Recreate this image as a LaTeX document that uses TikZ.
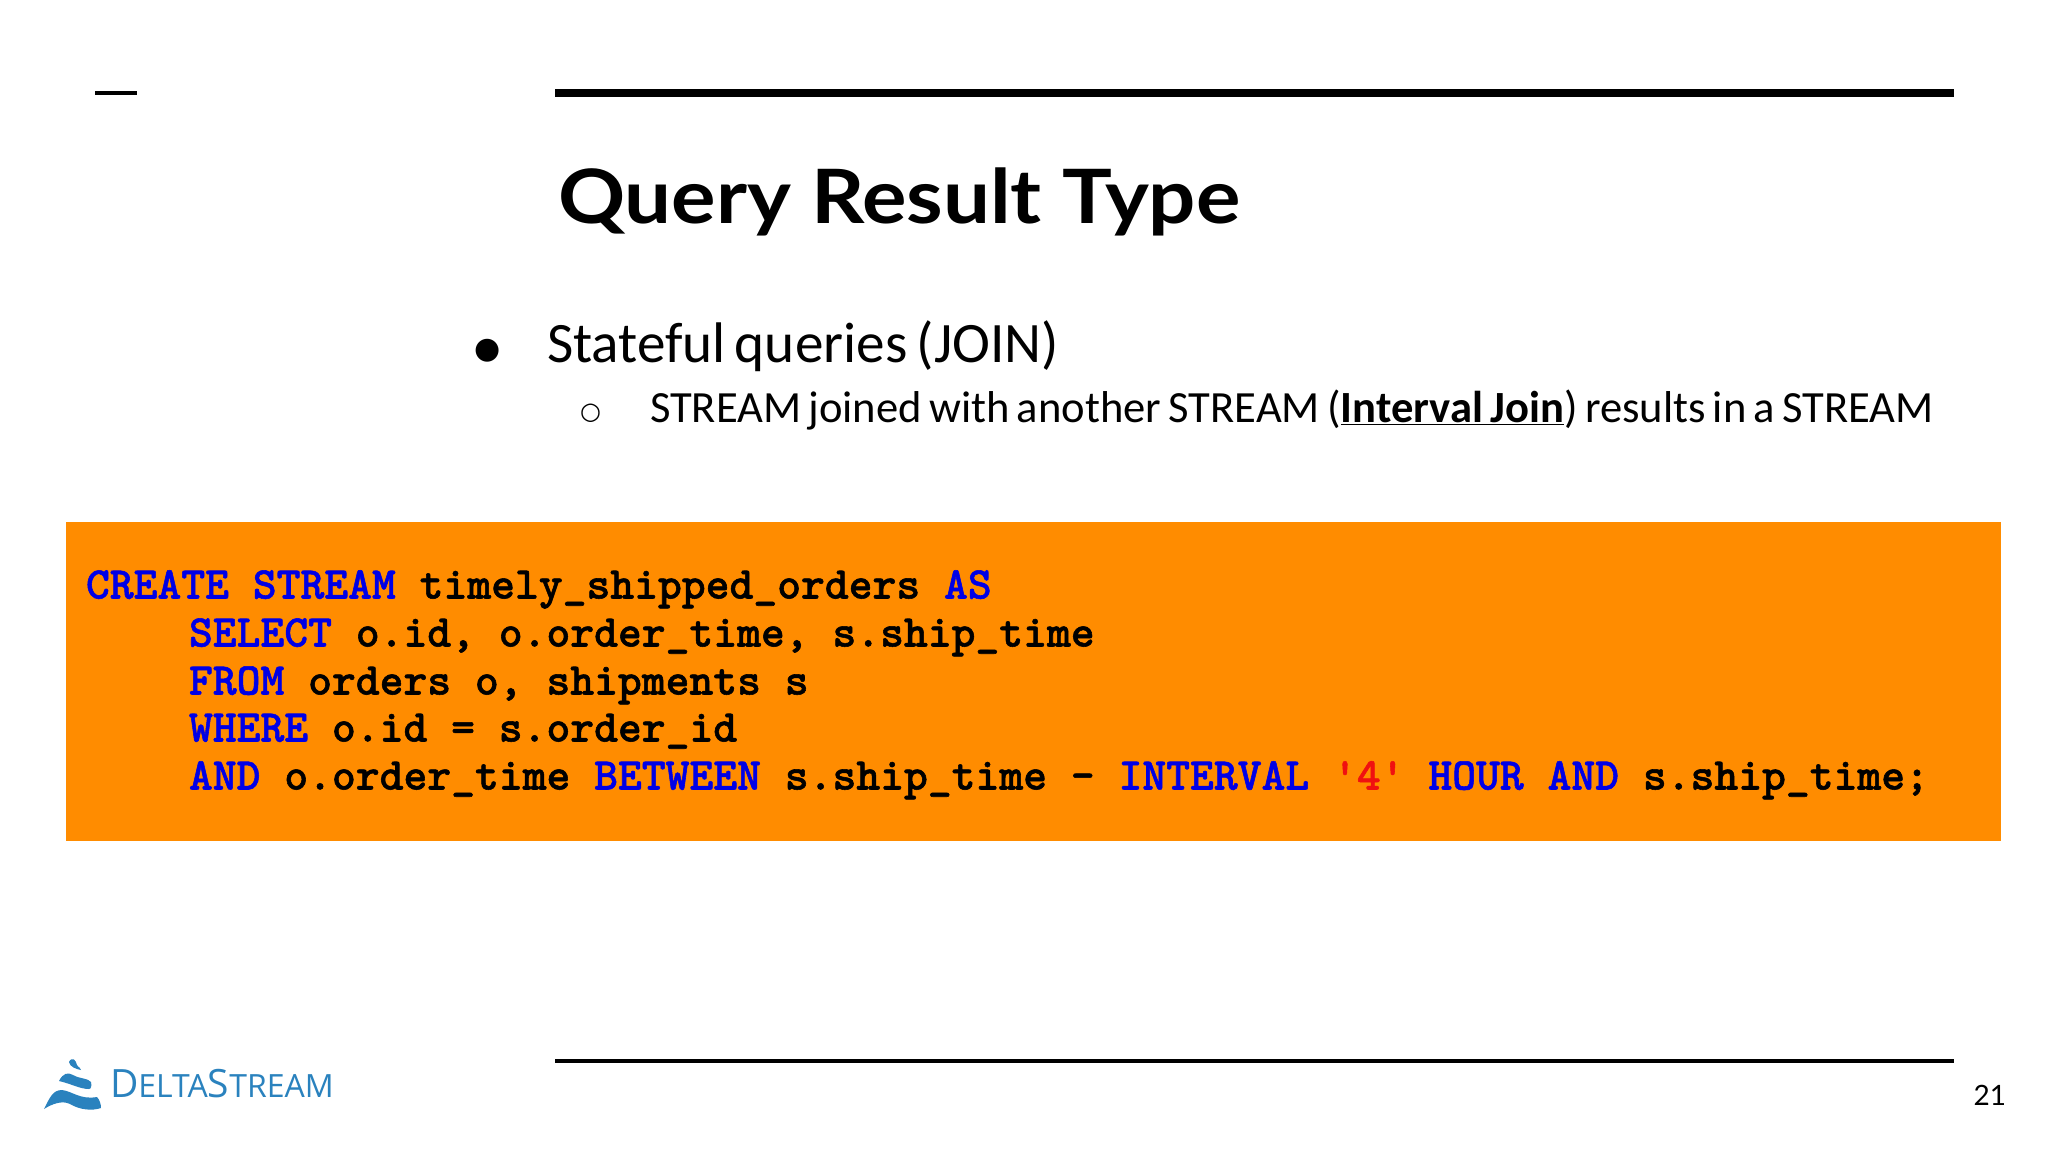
\documentclass[tikz,border=0pt]{standalone}
\usepackage{fontspec}
\setmainfont[WordSpace=0.72]{Carlito}
\newfontfamily\titlefont[FakeStretch=1.11]{Lato}
\newfontfamily\pagefont{Lato}
\setmonofont[BoldFeatures={FakeBold=1.2}]{Latin Modern Mono Light}
\newfontfamily\symfont{DejaVu Sans}
\newfontfamily\logofont{Open Sans}
\definecolor{boxorange}{HTML}{FF8C00}
\definecolor{kw}{HTML}{0000E6}
\definecolor{strred}{HTML}{F01010}
\definecolor{logoblue}{HTML}{2A82BE}
\newcommand{\KW}[1]{\textcolor{kw}{#1}}
\tikzset{
  txt/.style={inner sep=0pt,outer sep=0pt,anchor=base west,text=black},
  codeline/.style={txt,font=\ttfamily\bfseries\fontsize{45.4}{47.7}\selectfont},
  rulebar/.style={draw=black,line cap=butt},
}
\begin{document}
\begin{tikzpicture}[x=1pt,y=-1pt]
\useasboundingbox (0,0) rectangle (2048,1152);
\fill[white] (0,0) rectangle (2048,1152);
% rules
\coordinate (r1a) at (95,93); \coordinate (r1b) at (137,93);
\coordinate (r2a) at (555,93); \coordinate (r2b) at (1954,93);
\coordinate (r3a) at (555,1061); \coordinate (r3b) at (1954,1061);
\draw[rulebar,line width=4pt] (r1a) -- (r1b);
\draw[rulebar,line width=8pt] (r2a) -- (r2b);
\draw[rulebar,line width=4pt] (r3a) -- (r3b);
% title
\node[txt,font=\titlefont\bfseries\fontsize{75}{80}\selectfont] (title) at (558,223) {Query Result Type};
% bullets
\node[txt,font=\symfont\fontsize{30}{34}\selectfont] (b1) at (474,358) {●};
\node[txt,font=\fontsize{57.2}{60}\selectfont] (t1) at (547,362) {Stateful queries (JOIN)};
\node[txt,font=\symfont\fontsize{24}{26}\selectfont] (b2) at (580,419) {○};
\node[txt,font=\fontsize{44.6}{50}\selectfont] (t2) at (650,422) {STREAM joined with another STREAM (\textbf{\underline{Interval Join}}) results in a STREAM};
% code box
\fill[boxorange] (66,522) rectangle (2001,840.5);
\node[codeline] (c1) at (86,598.5) {\KW{CREATE STREAM} timely\_shipped\_orders \KW{AS}};
\node[codeline] (c2) at (189,646.5) {\KW{SELECT} o.id, o.order\_time, s.ship\_time};
\node[codeline] (c3) at (189,694.5) {\KW{FROM} orders o, shipments s};
\node[codeline] (c4) at (189,741.5) {\KW{WHERE} o.id = s.order\_id};
\node[codeline] (c5) at (189,789.5) {\KW{AND} o.order\_time \KW{BETWEEN} s.ship\_time - \KW{INTERVAL} \textcolor{strred}{'4'} \KW{HOUR} \KW{AND} s.ship\_time;};
% logo
\fill[logoblue] (69,1062) .. controls (72,1056) and (76,1060) .. (77,1065) .. controls (79,1068) and (81,1068) .. (81,1070) .. controls (76,1069) and (70,1067) .. (69,1062) -- cycle;
\fill[logoblue] (59,1081) .. controls (63,1073) and (68,1072) .. (73,1075) .. controls (80,1079) and (88,1078) .. (91,1082) .. controls (92,1086) and (91,1089) .. (89,1089) .. controls (80,1089) and (72,1084) .. (59,1081) -- cycle;
\fill[logoblue] (44,1109) .. controls (50,1097) and (53,1090) .. (62,1090) .. controls (72,1091) and (80,1100) .. (97,1097) .. controls (100,1100) and (101,1105) .. (101,1108) .. controls (92,1111) and (80,1110) .. (70,1104) .. controls (62,1100) and (52,1104) .. (44,1109) -- cycle;
\node[txt,text=logoblue,font=\logofont\fontsize{39}{40}\selectfont] (logo) at (110,1097) {D{\fontsize{32}{40}\selectfont ELTA}S{\fontsize{32}{40}\selectfont TREAM}};
% page number
\node[txt,font=\pagefont\fontsize{28}{32}\selectfont,anchor=base east] (pg) at (2006,1105) {21};
\end{tikzpicture}
\end{document}
